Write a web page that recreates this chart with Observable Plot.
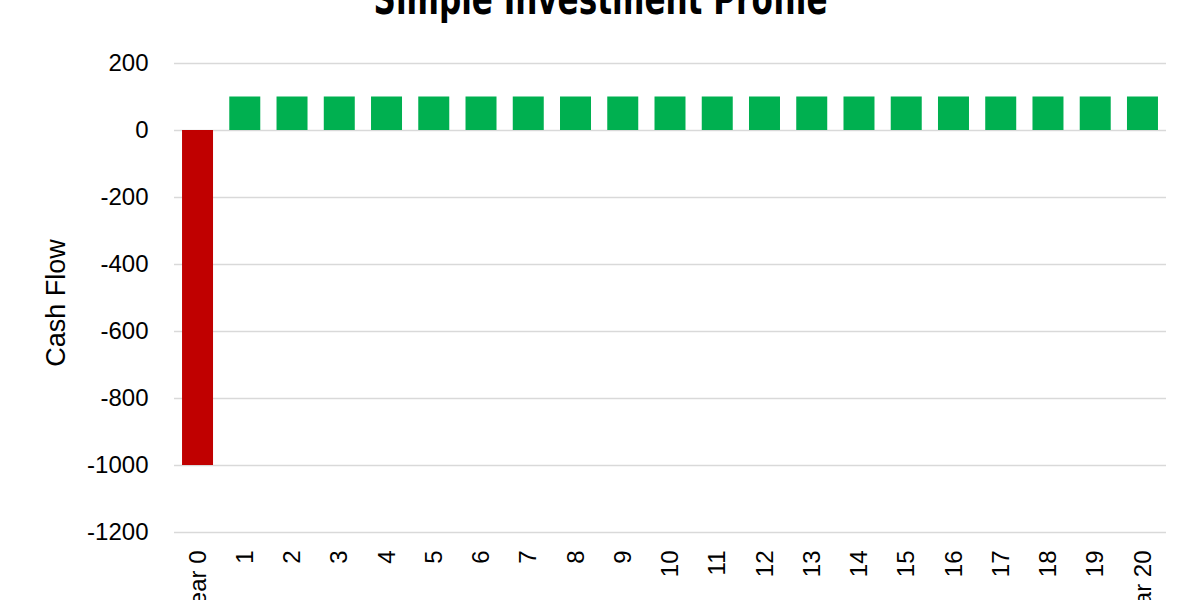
<!DOCTYPE html>
<html>
<head>
<meta charset="utf-8">
<script src="https://cdn.jsdelivr.net/npm/d3@7"></script>
<script src="https://cdn.jsdelivr.net/npm/@observablehq/plot@0.6"></script>
<style>
  html, body { margin: 0; padding: 0; background: #fff; }
  #chart { width: 1200px; height: 600px; overflow: hidden; }
</style>
</head>
<body>
<div id="chart"></div>
<script>
const title = "Simple Investment Profile";
const yLabel = "Cash Flow";
const years = ["Year 0", "1", "2", "3", "4", "5", "6", "7", "8", "9", "10",
  "11", "12", "13", "14", "15", "16", "17", "18", "19", "Year 20"];
const cashFlows = [-1000, 100, 100, 100, 100, 100, 100, 100, 100, 100, 100,
  100, 100, 100, 100, 100, 100, 100, 100, 100, 100];
const yTicks = [-1200, -1000, -800, -600, -400, -200, 0, 200];

const data = years.map((year, i) => ({year, value: cashFlows[i]}));

const chart = Plot.plot({
  width: 1200,
  height: 600,
  marginTop: 63,
  marginBottom: 68,
  marginLeft: 174,
  marginRight: 34,
  style: {fontFamily: "'Liberation Sans', Arial, sans-serif", background: "#fff", color: "#000"},
  x: {domain: years, paddingInner: 0.344, paddingOuter: 0.17, round: false},
  y: {domain: [-1200, 200]},
  marks: [
    Plot.gridY(yTicks, {stroke: "#d9d9d9", strokeOpacity: 1, strokeWidth: 1.5}),
    Plot.barY(data, {
      x: "year", y: "value",
      fill: d => d.value < 0 ? "#C00000" : "#00B050"
    }),
    Plot.axisY(yTicks, {
      tickSize: 0, tickPadding: 26, fontSize: 24, label: null,
      tickFormat: d => String(d), fill: "#000"
    }),
    Plot.axisX({
      tickSize: 0, tickPadding: 18, fontSize: 24, tickRotate: -90, label: null, fill: "#000"
    }),
    Plot.text([yLabel], {
      frameAnchor: "left", dx: -118, dy: 5, rotate: -90,
      fontSize: 27, fill: "#000", textAnchor: "middle", lineAnchor: "middle"
    }),
    Plot.text([title], {
      frameAnchor: "top", dx: -70, dy: -50, lineAnchor: "bottom",
      fontSize: 44, fontWeight: "bold", fill: "#000",
      fontFamily: "'Liberation Sans Narrow', 'DejaVu Sans Condensed', Arial, sans-serif",
      className: "chart-title"
    })
  ]
});
// condense the title to the reference's narrow bold face
const t = chart.querySelector(".chart-title text");
if (t) {
  t.setAttribute("textLength", "454");
  t.setAttribute("lengthAdjust", "spacingAndGlyphs");
}
document.getElementById("chart").appendChild(chart);
</script>
</body>
</html>
